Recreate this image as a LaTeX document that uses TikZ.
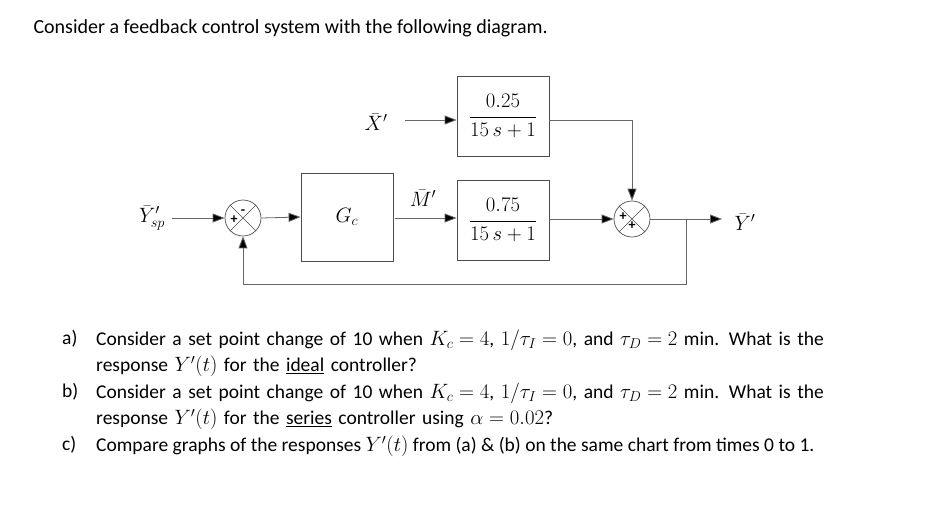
\documentclass[tikz,border=0pt]{standalone}
\usepackage{fontspec}
\setmainfont{Carlito}
\usetikzlibrary{arrows.meta}
\begin{document}
\begin{tikzpicture}[x=1pt,y=-1pt,
  blk/.style={draw=black!70,line width=0.8pt,minimum width=92pt,minimum height=88pt,inner sep=0pt},
  sumj/.style={draw=black!70,circle,minimum size=36pt,inner sep=0pt,line width=0.7pt},
  conn/.style={draw=black!60,line width=0.8pt},
  arr/.style={conn,-{Triangle[length=12pt,width=9pt,fill=black]}},
  lab/.style={font=\fontsize{22}{24}\selectfont}]
\useasboundingbox (0,0) rectangle (934,504);
\node[anchor=west,font=\fontsize{20}{22}\selectfont] (title) at (30,28) {Consider a feedback control system with the following diagram.};
% blocks
\node[blk] (gc) at (347,217) {\fontsize{22}{24}\selectfont $G_c$};
\node[blk,minimum height=80pt] (g1) at (503,116) {\fontsize{20}{22}\selectfont $\displaystyle\frac{0.25}{15\,s+1}$};
\node[blk,minimum height=80pt] (g2) at (503,220) {\fontsize{20}{22}\selectfont $\displaystyle\frac{0.75}{15\,s+1}$};
\node[sumj] (s1) at (243,218) {};
\node[sumj] (s2) at (632,219) {};
\foreach \s in {s1,s2}{
  \draw[black!70,line width=0.6pt] (\s.north west) -- (\s.south east) (\s.north east) -- (\s.south west);}
\node[font=\fontsize{14}{14}\selectfont\bfseries] at ([xshift=-9pt,yshift=-2pt]s1.center) {+};
\node[font=\fontsize{14}{14}\selectfont\bfseries] at ([xshift=0pt,yshift=6pt]s1.center) {-};
\node[font=\fontsize{14}{14}\selectfont\bfseries] at ([xshift=-9pt,yshift=2pt]s2.center) {+};
\node[font=\fontsize{14}{14}\selectfont\bfseries] at ([xshift=0pt,yshift=-7pt]s2.center) {+};
% labels
\node[lab] (ysp) at (152,218) {$\bar Y'_{sp}$};
\node[lab] (xp) at (376,122) {$\bar X'$};
\node[lab] (mp) at (423,198) {$\bar M'$};
\node[lab] (yo) at (745,222) {$\bar Y'$};
\coordinate (xs) at (405,120);
\coordinate (ms) at (395,218);
% connectors
\draw[arr] (172,218) -- (s1.west);
\draw[arr] (s1.east) -- (gc.west);
\draw[arr] (xs) -- (g1.west|-xs);
\draw[arr] (ms) -- (g2.west|-ms);
\draw[arr] (g2.east|-s2) -- (s2.west);
\draw[arr] (g1.east|-0,120) -| (s2.north);
\draw[arr] (s2.east) -- (722,219);
\draw[arr] (686,219) -- (686,284) -| (s1.south);
% questions
\begin{scope}[every node/.style={anchor=north west,font=\fontsize{19.5}{26}\selectfont,inner sep=0pt}]
\node (qa) at (62,330) {a)};
\node[text width=800pt] (ta) at (96,330) {Consider a set point change of 10 when $K_c=4$, $1/\tau_I=0$, and $\tau_D=2$ min. What is the\\response $Y'(t)$ for the \underline{ideal} controller?};
\node (qb) at (62,383) {b)};
\node[text width=800pt] (tb) at (96,383) {Consider a set point change of 10 when $K_c=4$, $1/\tau_I=0$, and $\tau_D=2$ min. What is the\\response $Y'(t)$ for the \underline{series} controller using $\alpha=0.02$?};
\node (qc) at (62,436) {c)};
\node (tc) at (96,436) {Compare graphs of the responses $Y'(t)$ from (a) \& (b) on the same chart from times 0 to 1.};
\end{scope}
\end{tikzpicture}
\end{document}
